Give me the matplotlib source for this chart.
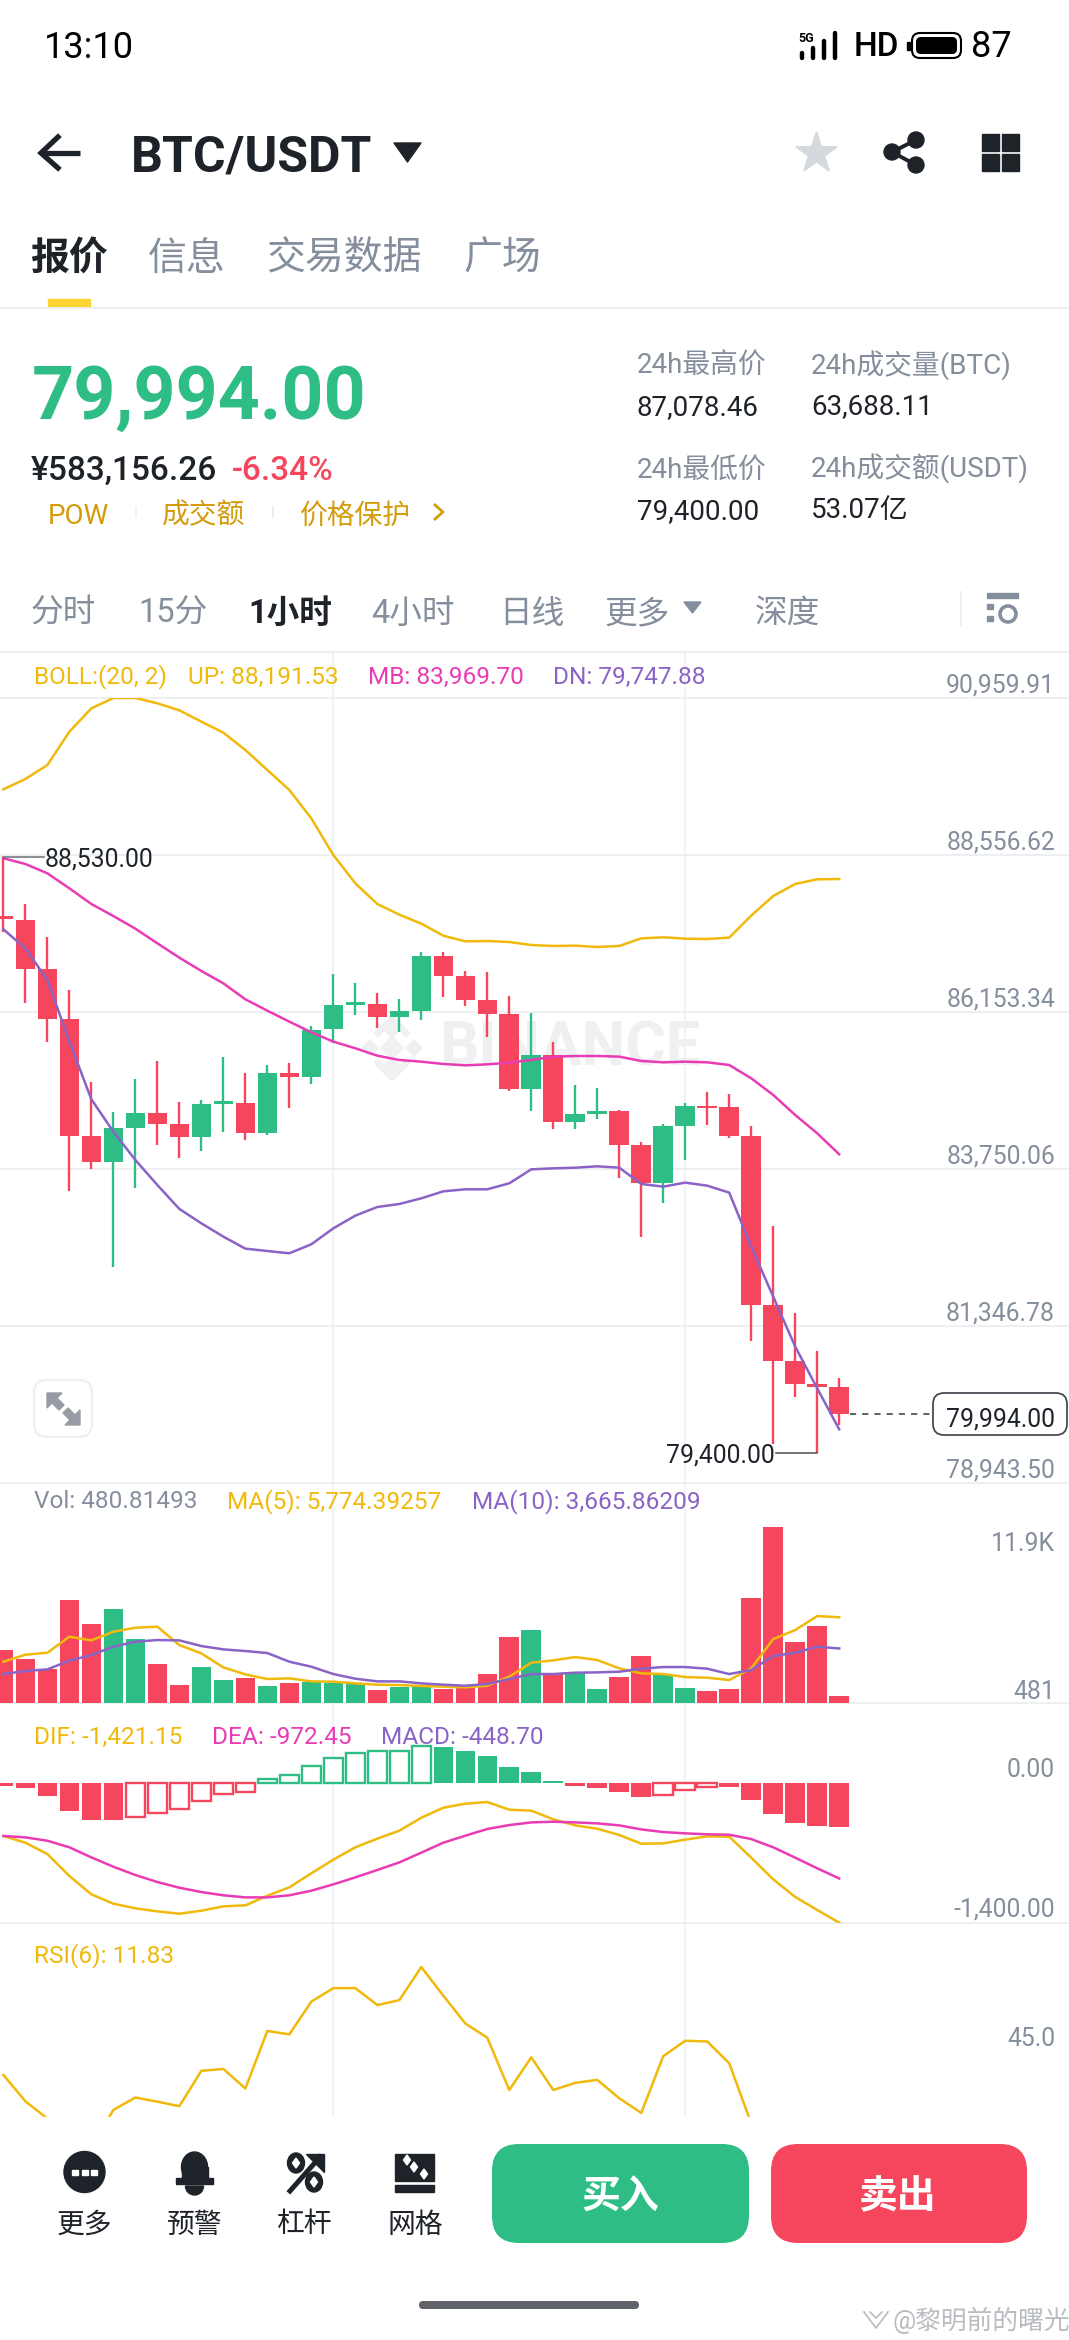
import matplotlib
matplotlib.use('Agg')
import matplotlib.pyplot as plt
from matplotlib.patches import FancyBboxPatch, Polygon, Circle, Ellipse, Rectangle, Wedge

plt.rcParams['font.family'] = ['Roboto', 'Noto Sans CJK SC', 'DejaVu Sans']

W, H = 1069, 2340

opens = [87625, 87565, 86810, 86053, 84261, 83863, 84383, 84608, 84435, 84245, 84741, 84761, 84297,
         85226, 85165, 85889, 86262, 86272, 86078, 86170, 87013, 86701, 86334, 86119, 84970, 85496,
         84475, 84593, 84639, 84118, 83531, 84409, 84715, 84705, 84256, 81667, 80809, 80457, 80406]
closes = [87575, 86810, 86053, 84261, 83863, 84383, 84608, 84435, 84245, 84741, 84787, 84297, 85226,
          85165, 85879, 86262, 86308, 86078, 86170, 87013, 86701, 86334, 86119, 84970, 85496, 84475,
          84593, 84639, 84118, 83531, 84409, 84715, 84680, 84256, 81667, 80809, 80457, 80416, 79994]
highs = [88530, 87804, 87304, 86497, 85083, 84618, 85129, 85399, 84782, 84807, 85471, 85216, 85343,
         85369, 85941, 86737, 86594, 86441, 86349, 87074, 87078, 86788, 86762, 86405, 86145, 85690,
         85037, 84986, 84649, 84159, 84434, 84756, 84925, 84894, 84404, 82872, 81539, 80963, 80544]
lows = [87385, 86288, 85690, 83418, 83750, 82254, 83464, 84118, 83913, 84031, 84322, 84195, 84271,
        84690, 85052, 85675, 86109, 85905, 85854, 86033, 86390, 86252, 85777, 84950, 84644, 84358,
        84358, 84516, 83618, 82714, 83224, 83888, 84424, 84220, 81116, 79538, 80263, 79400, 79829]

boll_up = [89566, 89724, 89938, 90449, 90806, 90965, 90965, 90883, 90776, 90602, 90434, 90168, 89862,
           89555, 89121, 88560, 88126, 87809, 87646, 87508, 87324, 87237, 87242, 87227, 87181, 87166,
           87171, 87151, 87166, 87283, 87299, 87278, 87273, 87294, 87631, 87932, 88116, 88187, 88192]
boll_mb = [88509, 88422, 88279, 88049, 87809, 87625, 87431, 87207, 86987, 86783, 86594, 86349, 86175,
           86007, 85844, 85701, 85599, 85486, 85420, 85394, 85359, 85338, 85353, 85379, 85420, 85471,
           85481, 85481, 85471, 85405, 85384, 85394, 85384, 85343, 85139, 84884, 84577, 84297, 83975]
boll_dn = [87421, 87130, 86645, 85701, 84817, 84322, 83888, 83505, 83138, 82918, 82714, 82530, 82494,
           82459, 82597, 82841, 83036, 83168, 83214, 83301, 83408, 83439, 83439, 83531, 83745, 83760,
           83770, 83791, 83770, 83521, 83480, 83541, 83495, 83388, 82561, 81795, 81029, 80391, 79763]

volumes = [3537, 2951, 2298, 6962, 5295, 6308, 4281, 2591, 1172, 2433, 1532, 1667, 1149,
           1329, 1397, 1352, 1262, 879, 1036, 1127, 901, 991, 1938, 4461, 4889, 2028,
           1983, 901, 1712, 3177, 1870, 969, 766, 901, 7074, 11896, 4100, 5182, 481]
vol_ma5 = [2771, 3244, 3380, 4461, 4213, 4799, 5069, 5137, 3898, 3334, 2388, 1915, 1600,
           1645, 1442, 1419, 1307, 1217, 1194, 1127, 1081, 1036, 1149, 1757, 2704, 2861,
           3087, 2884, 2321, 1983, 1938, 1735, 1690, 1532, 2321, 4303, 4912, 5858, 5774]
vol_ma10 = [1938, 2140, 2253, 2839, 3222, 3785, 4123, 4236, 4213, 3830, 3605, 3492, 3357,
            2771, 2433, 1938, 1622, 1442, 1442, 1307, 1217, 1149, 1262, 1600, 1938, 1938,
            2028, 2050, 2095, 2298, 2411, 2411, 2298, 1938, 2208, 3154, 3380, 3785, 3666]

macd = [-30, -58, -132, -284, -382, -382, -345, -305, -267, -186, -115, -91, 37,
        81, 173, 254, 305, 321, 325, 369, 359, 321, 271, 156, 112, 20,
        -30, -51, -95, -149, -122, -71, -44, -44, -179, -318, -406, -437, -449]
dif = [-541, -609, -724, -947, -1133, -1228, -1275, -1306, -1330, -1299, -1255, -1245, -1147,
       -1062, -920, -781, -656, -568, -487, -355, -254, -213, -196, -274, -284, -372,
       -433, -467, -531, -619, -616, -578, -545, -548, -761, -981, -1160, -1292, -1421]
dea = [-541, -555, -589, -656, -758, -853, -937, -1008, -1066, -1110, -1143, -1164, -1164,
       -1143, -1096, -1032, -961, -886, -809, -710, -609, -538, -470, -430, -403, -396,
       -403, -413, -433, -474, -501, -514, -524, -528, -572, -656, -761, -869, -972]
rsi = [37.7, 30.7, 26.1, 20.4, 18.6, 28.4, 31.7, 30.6, 29.4, 38.8, 39.3, 34.1, 49.4,
       48.5, 57.2, 60.8, 60.8, 56.3, 57.6, 66.4, 58.8, 51.4, 47.6, 33.7, 42.4, 33.7,
       35.6, 36.4, 31.5, 27.6, 42.7, 46.8, 46.6, 40.8, 24.8, 18.0, 14.0, 13.0, 11.83]

price_ticks = [90959.91, 88556.62, 86153.34, 83750.06, 81346.78, 78943.50]
price_tick_labels = ['90,959.91', '88,556.62', '86,153.34', '83,750.06', '81,346.78', '78,943.50']
vertical_grid = [15, 31]

GREEN = '#2ebd85'
RED = '#f6465d'
ORANGE = '#f0b90b'
PINK = '#e93cb4'
PURPLE = '#8a63c6'
DARK = '#1e2329'
GRAY = '#848e9c'
GRID = '#eeeff2'
GOLD = '#d49b0a'

LINE = 1.8
STEP, X0 = 21.995, 3.4


def x_index(pixel):
    return (pixel - X0) / STEP


fig = plt.figure(figsize=(W / 100, H / 100), dpi=100, facecolor='white')


def panel(top, bottom, ylim, zorder=2):
    ax = fig.add_axes([0, 1 - bottom / H, 1, (bottom - top) / H], zorder=zorder)
    ax.set_xlim(x_index(0), x_index(W))
    ax.set_ylim(*ylim)
    ax.axis('off')
    return ax


bg = fig.add_axes([0, 0, 1, 1], zorder=0)
bg.set_xlim(0, W)
bg.set_ylim(H, 0)
bg.axis('off')
ui = fig.add_axes([0, 0, 1, 1], zorder=5)
ui.set_xlim(0, W)
ui.set_ylim(H, 0)
ui.axis('off')


def label(x, y, s, size, color=DARK, ha='left', weight='normal', ax=ui, **kw):
    return ax.text(x, y + 3, s, fontsize=size, color=color, ha=ha, va='center', fontweight=weight, **kw)


def round_box(ax, x, y, w, h, r, **kw):
    ax.add_patch(FancyBboxPatch((x + r, y + r), w - 2 * r, h - 2 * r,
                                boxstyle='round,pad=%s,rounding_size=%s' % (r, r), **kw))


# panel separators and vertical grid
for y in [652, 1702.7, 1922.7]:
    bg.plot([0, W], [y, y], color=GRID, lw=1.5, solid_capstyle='butt')
for i in vertical_grid:
    xp = X0 + STEP * i
    bg.plot([xp, xp], [653, 2116], color=GRID, lw=1.1)

# BINANCE watermark
WM = '#eef0f2'
for cx, cy, r in [(392, 1048, 11), (392, 1030, 8), (392, 1066, 8), (370, 1048, 8), (414, 1048, 8)]:
    bg.add_patch(Polygon([(cx, cy - r), (cx + r, cy), (cx, cy + r), (cx - r, cy)], color=WM))
bg.plot([378, 392, 406], [1033, 1019, 1033], color=WM, lw=5)
bg.plot([378, 392, 406], [1063, 1077, 1063], color=WM, lw=5)
label(439, 1046, 'BINANCE', 44.5, WM, weight='bold', ax=bg)

# main candles
main = panel(698.3, 1482.8, (price_ticks[-1], price_ticks[0]))
for tick in price_ticks:
    main.axhline(tick, color=GRID, lw=1.5, clip_on=False, zorder=0)
idx = list(range(len(opens)))
for i in idx:
    color = GREEN if closes[i] >= opens[i] else RED
    main.vlines(i, lows[i], highs[i], color=color, lw=1.7, zorder=2)
    main.bar(i, abs(closes[i] - opens[i]), bottom=min(opens[i], closes[i]), width=0.89, color=color, zorder=2)
main.plot(idx, boll_up, color=ORANGE, lw=LINE, zorder=3)
main.plot(idx, boll_mb, color=PINK, lw=LINE, zorder=3)
main.plot(idx, boll_dn, color=PURPLE, lw=LINE, zorder=3)
for tick, text in zip(price_ticks, price_tick_labels):
    main.annotate(text, (x_index(1055), tick), xytext=(0, 9), textcoords='offset points',
                  ha='right', va='center', fontsize=17.8, color=GRAY, annotation_clip=False)

# high / low / last markers
main.plot([0, x_index(44)], [max(highs), max(highs)], color='#6b6f76', lw=1.1, zorder=4)
main.plot([x_index(776), 37], [min(lows), min(lows)], color='#4a4e55', lw=1.1, zorder=4)
main.hlines(closes[-1], x_index(850), x_index(932), color='#33373d', lw=1.1, linestyles=(0, (4, 4)), zorder=4)
main.annotate('{:,.2f}'.format(max(highs)), (x_index(45), max(highs)), xytext=(0, -1.5), textcoords='offset points',
              va='center', fontsize=17.8, color=DARK, annotation_clip=False)
main.annotate('{:,.2f}'.format(min(lows)), (x_index(775), min(lows)), xytext=(0, -1.5), textcoords='offset points',
              va='center', ha='right', fontsize=17.8, color=DARK, annotation_clip=False)
round_box(ui, 933, 1393, 134, 42, 11, fc='white', ec='#3a3e45', lw=1.2)
label(1055, 1416, '{:,.2f}'.format(closes[-1]), 17.8, DARK, ha='right')

# expand button
round_box(ui, 34, 1380, 58, 57, 13, fc='white', ec=GRID, lw=1.6)
for pts in [[(47, 1393), (62, 1393), (57, 1398), (64, 1405), (59, 1410), (52, 1403), (47, 1408)],
            [(80, 1425), (65, 1425), (70, 1420), (63, 1413), (68, 1408), (75, 1415), (80, 1410)]]:
    ui.add_patch(Polygon(pts, color='#979ba3'))

# volume
vol = panel(1482.8, 1702.7, (0, 14865))
vol.axhline(14865, color=GRID, lw=1.5, clip_on=False, zorder=0)
vol.bar(idx, volumes, width=0.89, color=[GREEN if c >= o else RED for o, c in zip(opens, closes)], zorder=2)
vol.plot(idx, vol_ma5, color=ORANGE, lw=LINE, zorder=3)
vol.plot(idx, vol_ma10, color=PURPLE, lw=LINE, zorder=3)

# macd
mac = panel(1702.7, 1922.7, (-1421, 812))
for i, value in enumerate(macd):
    color = GREEN if value >= 0 else RED
    if i > 0 and value > macd[i - 1]:
        mac.bar(i, value, width=0.89, facecolor='white', edgecolor=color, lw=1.7, zorder=2)
    else:
        mac.bar(i, value, width=0.89, color=color, zorder=2)
mac.plot(idx, dif, color=ORANGE, lw=LINE, zorder=3)
mac.plot(idx, dea, color=PINK, lw=LINE, zorder=3)

# rsi, cut off by the bottom bar
rs = panel(1922.7, 2116.7, (26.6, 78.2))
rs.plot(idx, rsi, color=ORANGE, lw=LINE)

# indicator captions
CAP = 17.6
label(34, 674, 'BOLL:(20, 2)', CAP, ORANGE)
label(188, 674, 'UP: 88,191.53', CAP, ORANGE)
label(368, 674, 'MB: 83,969.70', CAP, PINK)
label(553, 674, 'DN: 79,747.88', CAP, PURPLE)
label(34, 1499, 'Vol: 480.81493', CAP, GRAY)
label(227, 1499, 'MA(5): 5,774.39257', CAP, ORANGE)
label(472, 1499, 'MA(10): 3,665.86209', CAP, PURPLE)
label(34, 1734, 'DIF: -1,421.15', CAP, ORANGE)
label(212, 1734, 'DEA: -972.45', CAP, PINK)
label(381, 1734, 'MACD: -448.70', CAP, PURPLE)
label(34, 1953, 'RSI(6): 11.83', CAP, ORANGE)
label(1055, 1541, '11.9K', 17.8, GRAY, ha='right')
label(1055, 1689, '481', 17.8, GRAY, ha='right')
label(1055, 1767, '0.00', 17.8, GRAY, ha='right')
label(1055, 1906, '-1,400.00', 17.8, GRAY, ha='right')
label(1055, 2036, '45.0', 17.8, GRAY, ha='right')

# status bar
label(44, 45, '13:10', 26, 'black')
label(798, 35, '5G', 9, 'black', weight='bold')
for xp, top in [(802, 53), (813, 48), (824, 41), (835, 33)]:
    ui.plot([xp, xp], [top, 58], color='black', lw=3.2, solid_capstyle='round')
label(854, 44, 'HD', 24, 'black', weight='medium')
round_box(ui, 912, 33, 49, 25, 8, fc='white', ec='black', lw=1.5)
round_box(ui, 916, 37, 41, 17, 5, fc='black', ec='none')
ui.add_patch(Rectangle((907, 42), 2.5, 8, color='black'))
label(971, 44, '87', 26, 'black')

# title row
ui.plot([80, 42], [153, 153], color=DARK, lw=3.8, solid_capstyle='butt')
ui.plot([58, 41, 58], [137, 153, 168], color=DARK, lw=3.8, solid_joinstyle='miter')
label(131, 155, 'BTC/USDT', 36, DARK, weight='bold')
ui.add_patch(Polygon([(394, 143), (421, 143), (407.5, 162)], color=DARK, joinstyle='round', lw=1))
ui.scatter([815.5], [153], marker='*', s=900, color='#d5d9de', lw=1.5, clip_on=False)
for cx, cy in [(892, 152), (916, 140), (916, 165)]:
    ui.add_patch(Circle((cx, cy), 8, color=DARK))
ui.plot([916, 892, 916], [140, 152, 165], color=DARK, lw=2.8)
for x0, y0 in [(982, 134), (1002, 134), (982, 154), (1002, 154)]:
    ui.add_patch(Rectangle((x0, y0), 17, 17, color=DARK))

# tabs
label(30, 256, '报价', 28, DARK, weight='bold')
label(148, 256, '信息', 28, GRAY)
label(266, 256, '交易数据', 28, GRAY)
label(463, 256, '广场', 28, GRAY)
ui.add_patch(Rectangle((48, 299), 42, 8, color='#fcd535'))
ui.plot([0, W], [307.5, 307.5], color=GRID, lw=1.4)

# price block
label(32, 396, '79,994.00', 53, GREEN, weight='bold')
label(31, 468, '¥583,156.26', 24, DARK, weight='medium')
label(232, 468, '-6.34%', 24, RED, weight='medium')
label(48, 513, 'POW', 20, GOLD)
label(162, 513, '成交额', 20, GOLD)
label(300, 513, '价格保护', 20, GOLD)
for xp in [136, 273]:
    ui.plot([xp, xp], [507, 517], color=GRID, lw=1.5)
ui.plot([435, 443, 435], [505, 512, 519], color=GOLD, lw=2)
label(637, 363, '24h最高价', 20, GRAY)
label(811, 363, '24h成交量(BTC)', 20, GRAY)
label(637, 405, '87,078.46', 20, DARK)
label(811, 404, '63,688.11', 20, DARK)
label(637, 467, '24h最低价', 20, GRAY)
label(811, 466, '24h成交额(USDT)', 20, GRAY)
label(637, 509, '79,400.00', 20, DARK)
label(811, 508, '53.07亿', 20, DARK)

# interval row
for xp, text, color, weight in [(31, '分时', GRAY, 'normal'), (138, '15分', GRAY, 'normal'),
                                (248, '1小时', DARK, 'bold'), (371, '4小时', GRAY, 'normal'),
                                (499, '日线', GRAY, 'normal'), (604, '更多', GRAY, 'normal'),
                                (755, '深度', GRAY, 'normal')]:
    label(xp, 611, text, 23.5, color, weight=weight)
ui.add_patch(Polygon([(684, 602), (701, 602), (692.5, 613)], color=GRAY))
ui.plot([961, 961], [592, 625], color=GRID, lw=1.5)
ui.add_patch(Rectangle((987, 593), 31, 4.5, color=GRAY))
ui.add_patch(Rectangle((987, 604), 6, 5, color=GRAY))
ui.add_patch(Rectangle((987, 616), 6, 5, color=GRAY))
ui.add_patch(Circle((1008, 614), 8, fc='white', ec=GRAY, lw=2.6))

# bottom bar
ui.add_patch(Rectangle((0, 2117), W, 223, color='white', zorder=0))
ui.add_patch(Circle((84.5, 2172), 20.5, color=DARK))
for xp in [72, 81.5, 91]:
    ui.add_patch(Rectangle((xp, 2170), 6, 5, color='white'))
ui.add_patch(Ellipse((194.5, 2167), 26, 30, color=DARK))
ui.add_patch(Rectangle((181.5, 2167), 26, 12, color=DARK))
ui.add_patch(Rectangle((176, 2178), 37, 6, color=DARK))
ui.add_patch(Wedge((194.5, 2186), 9, 0, 180, color=DARK))
for cx, cy in [(296, 2163), (314, 2182)]:
    ui.add_patch(Ellipse((cx, cy), 17, 20, color=DARK))
    ui.add_patch(Polygon([(cx, cy - 5), (cx + 3.5, cy), (cx, cy + 5), (cx - 3.5, cy)], color='white'))
ui.plot([290, 320], [2191, 2157], color=DARK, lw=3.6)
ui.add_patch(Polygon([(306, 2154), (324, 2154), (324, 2172)], color=DARK))
ui.add_patch(Rectangle((395, 2154), 39, 27, color=DARK))
ui.add_patch(Rectangle((395, 2185), 39, 7, color=DARK))
for cx, cy in [(407, 2160), (414, 2167), (424, 2174)]:
    ui.add_patch(Polygon([(cx, cy - 5), (cx + 3.5, cy), (cx, cy + 5), (cx - 3.5, cy)], color='white'))
for xp, text in [(84.5, '更多'), (194.5, '预警'), (305, '杠杆'), (415, '网格')]:
    label(xp, 2222, text, 20, DARK, ha='center')
round_box(ui, 492, 2144, 257, 99, 27, fc=GREEN, ec='none')
round_box(ui, 771, 2144, 256, 99, 27, fc=RED, ec='none')
label(620, 2195, '买入', 28, 'white', ha='center', weight='bold')
label(898, 2195, '卖出', 28, 'white', ha='center', weight='bold')
round_box(ui, 419, 2301, 220, 8, 4, fc='#5f6368', ec='none')
label(893, 2317, '@黎明前的曙光', 18.5, '#b9bcc0')
ui.plot([864, 876, 888], [2312, 2328, 2312], color='#b9bcc0', lw=1.2)
ui.plot([870, 876, 882], [2312, 2318, 2312], color='#b9bcc0', lw=1.2)

fig.savefig('out.png', dpi=100, facecolor='white')
